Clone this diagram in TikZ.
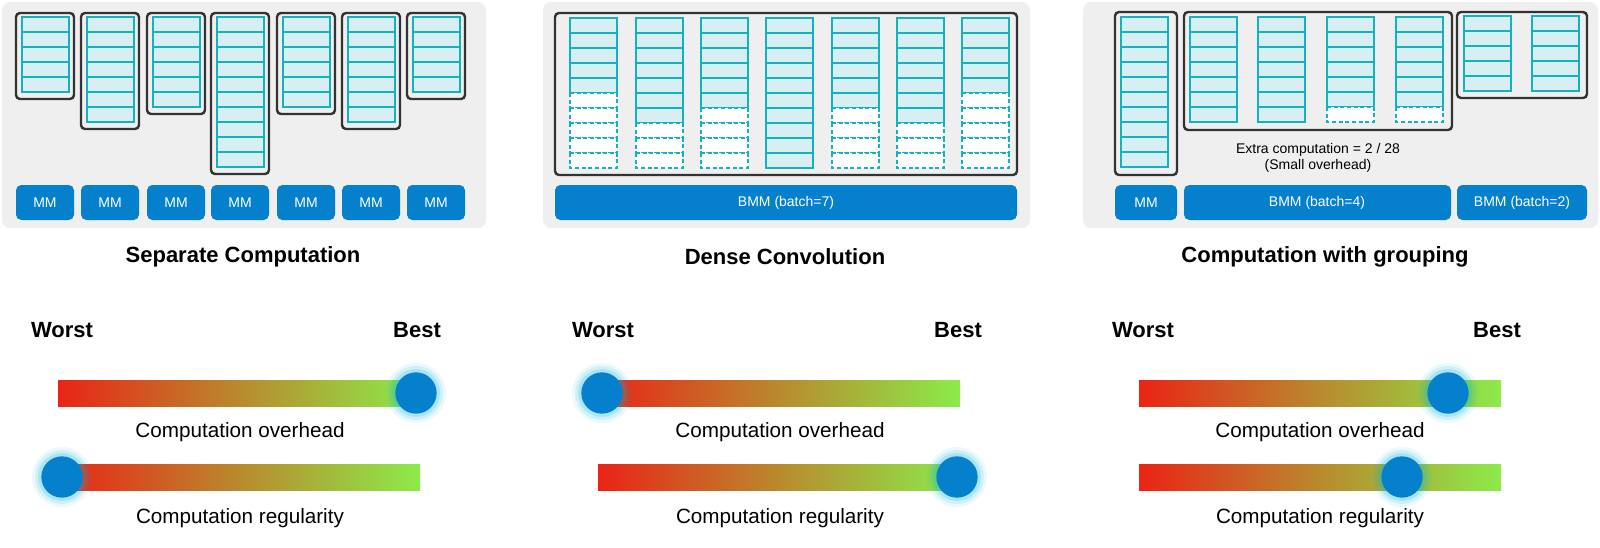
\documentclass[tikz,border=0pt]{standalone}
\usepackage{fontspec}
\setmainfont{Liberation Sans}
\begin{document}
\definecolor{teal}{HTML}{13B3BD}
\definecolor{cellfill}{HTML}{D7EEF2}
\definecolor{panelbg}{HTML}{EFEFEF}
\definecolor{btn}{HTML}{0480CC}
\definecolor{knob}{HTML}{0480CC}
\definecolor{bred}{HTML}{EA2416}
\definecolor{bmid}{HTML}{B98A2E}
\definecolor{bgreen}{HTML}{8CEB4A}
\newcommand{\tcol}[4]{%
  \foreach \i in {1,...,#3}{\draw[cell] (#1,{#2+15*(\i-1)}) rectangle ++(47,15);}%
  \draw[colframe] (#1,#2) rectangle ++(47,{15*#3});%
  \ifnum#4>0 \foreach \i in {1,...,#4}{\draw[dcell] (#1,{#2+15*(#3+\i-1)}) rectangle ++(47,15);}\fi%
}
\newcommand{\slider}[4]{%
  \shade[left color=bred,right color=bgreen,middle color=bmid] (#1,#2-13) rectangle ++(362,26);%
  \foreach \r/\o in {30/0.08,27/0.12,24/0.18}{\fill[knob!60!cyan,opacity=\o] (#3,#2) circle (\r);}%
  \node[knobst] (#4) at (#3,#2) {};%
}%
\begin{tikzpicture}[x=0.75pt,y=-0.75pt,
  cell/.style={draw=teal,fill=cellfill,line width=0.9pt},
  colframe/.style={draw=teal,line width=1.8pt},
  dcell/.style={draw=teal,fill=white,dashed,line width=1.3pt,dash pattern=on 3pt off 2pt},
  box/.style={draw=black!80,line width=1.8pt,rounded corners=3pt},
  panel/.style={fill=panelbg,rounded corners=6pt},
  mm/.style={fill=btn,rounded corners=4pt},
  mmtxt/.style={text=white,font=\fontsize{10.5}{12}\selectfont},
  title/.style={font=\fontsize{16.5}{20}\selectfont\bfseries},
  wb/.style={font=\fontsize{16.5}{20}\selectfont\bfseries},
  lab/.style={font=\fontsize{15.5}{18}\selectfont},
  knobst/.style={circle,fill=knob,minimum size=31pt,inner sep=0pt}]
% panels
\fill[panel] (2,2) rectangle (486,228);
\fill[panel] (543,2) rectangle (1030,228);
\fill[panel] (1083,2) rectangle (1598,228);
% panel 1
\foreach \x/\n [count=\k] in {16/5,81/7,147/6,211/10,277/6,342/7,407/5}{
  \draw[box] (\x,13) rectangle ({\x+58},{13+15*\n+11});
  \tcol{\x+6}{17}{\n}{0}
  \fill[mm] (\x,185) rectangle ++(58,35);
  \node[mmtxt] (mm\k) at ({\x+29},202.5) {MM};
}
% panel 2
\draw[box] (555,13) rectangle (1017,175);
\foreach \x/\n/\d in {570/5/5,636/7/3,701/6/4,766/10/0,832/6/4,897/7/3,962/5/5}{
  \tcol{\x}{18}{\n}{\d}
}
\fill[mm] (555,185) rectangle (1017,220);
\node[mmtxt] (bmm7) at (786,202.5) {BMM (batch=7)};
% panel 3
\draw[box] (1115,12) rectangle (1177,175);
\tcol{1121}{17}{10}{0}
\draw[box] (1184,12) rectangle (1452,130);
\tcol{1190}{17}{7}{0}
\tcol{1258}{17}{7}{0}
\tcol{1327}{17}{6}{1}
\tcol{1396}{17}{6}{1}
\draw[box] (1457,12) rectangle (1587,98);
\tcol{1464}{16}{5}{0}
\tcol{1532}{16}{5}{0}
\node[font=\fontsize{10.5}{12}\selectfont,align=center] (extra) at (1318,158) {Extra computation = 2 / 28\\(Small overhead)};
\fill[mm] (1115,185) rectangle (1177,220);
\node[mmtxt] (mm3) at (1146,202.5) {MM};
\fill[mm] (1184,185) rectangle (1451,220);
\node[mmtxt] (bmm4) at (1317,202.5) {BMM (batch=4)};
\fill[mm] (1457,185) rectangle (1587,220);
\node[mmtxt] (bmm2) at (1522,202.5) {BMM (batch=2)};
% titles
\node[title] (t1) at (243,257) {Separate Computation};
\node[title] (t2) at (785,257) {Dense Convolution};
\node[title] (t3) at (1325,257) {Computation with grouping};
% worst/best
\foreach \w/\b [count=\k] in {62/417,603/958,1143/1497}{
  \node[wb] (w\k) at (\w,330) {Worst};
  \node[wb] (b\k) at (\b,330) {Best};
}
% sliders
\slider{58}{393}{416}{k1a}
\slider{58}{477}{62}{k1b}
\slider{598}{393}{602}{k2a}
\slider{598}{477}{957}{k2b}
\slider{1139}{393}{1448}{k3a}
\slider{1139}{477}{1402}{k3b}
\foreach \c [count=\k] in {240,780,1320}{
  \node[lab] (o\k) at (\c,432) {Computation overhead};
  \node[lab] (r\k) at (\c,518) {Computation regularity};
}
\pgfresetboundingbox
\useasboundingbox (0,0) rectangle (1600,547);
\end{tikzpicture}
\end{document}
